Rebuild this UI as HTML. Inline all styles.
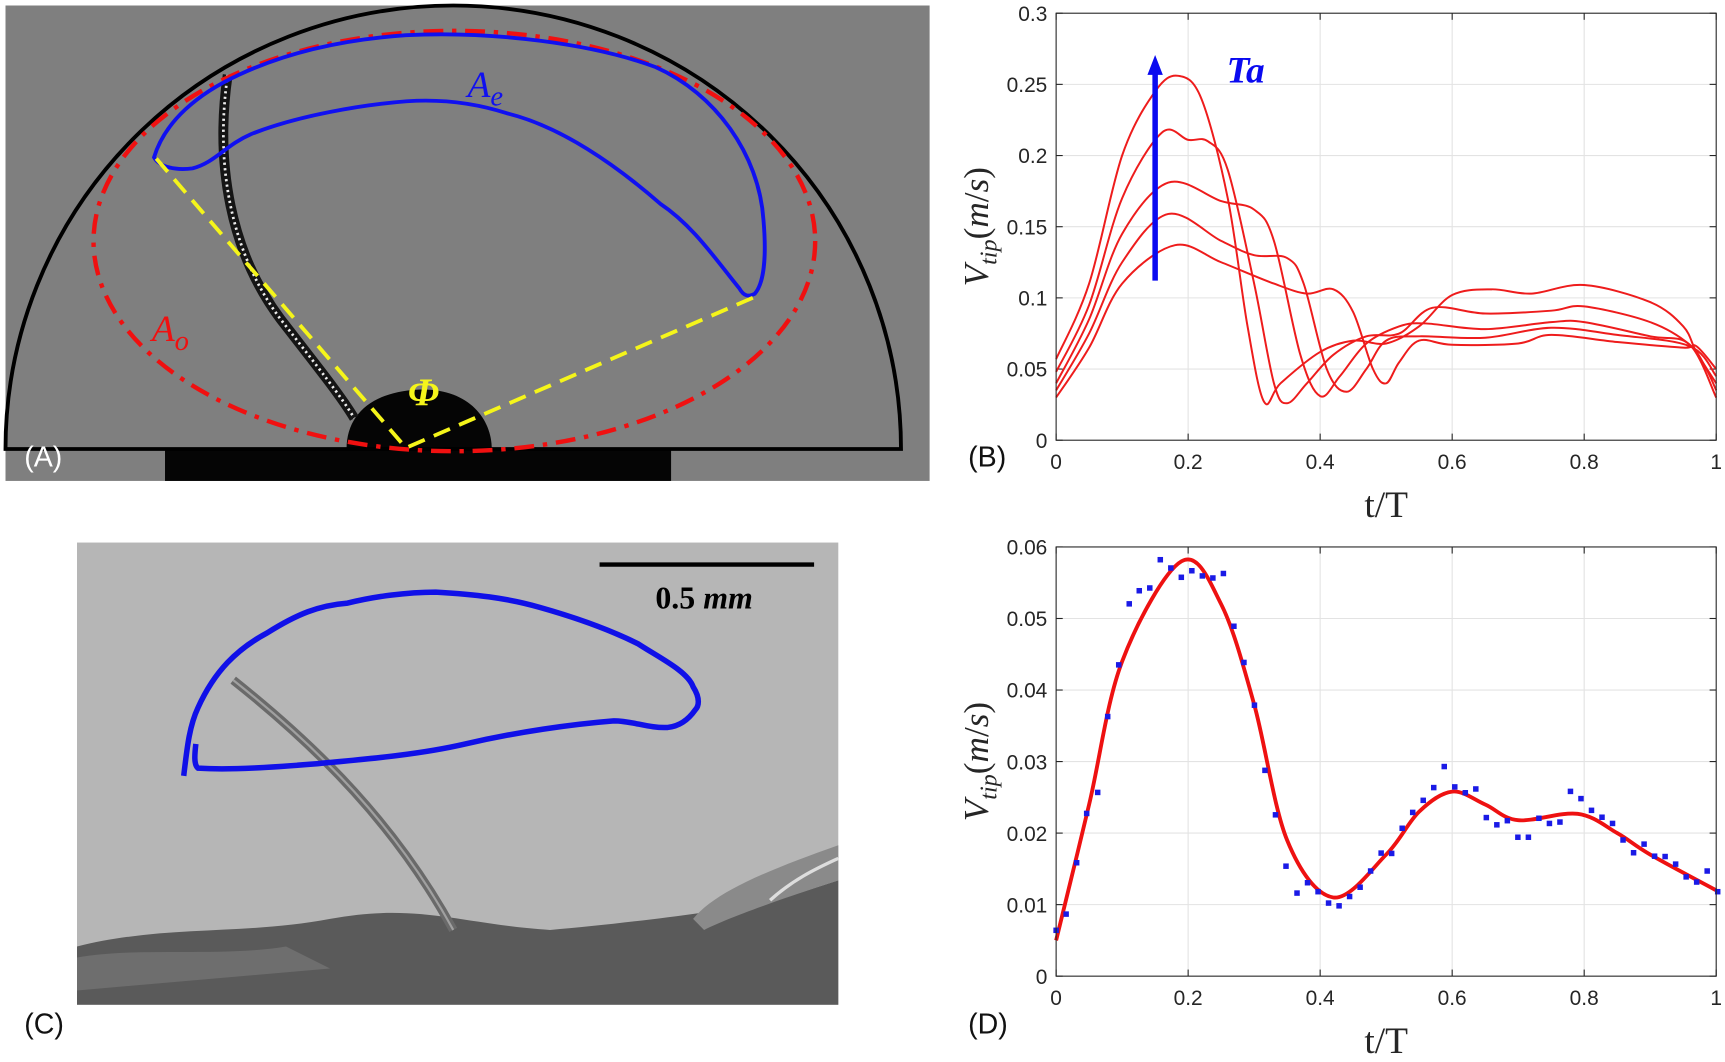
<!DOCTYPE html>
<html><head><meta charset="utf-8">
<style>
html,body{margin:0;padding:0;background:#fff;}
svg{display:block;}
.tk{font-family:"Liberation Sans Narrow","Liberation Sans",sans-serif;font-size:19px;fill:#262626;}
.lab{font-family:"Liberation Serif",serif;fill:#262626;}
</style></head><body>
<svg id="s" width="1725" height="1062" viewBox="0 0 1568 965" preserveAspectRatio="none" xmlns="http://www.w3.org/2000/svg">
<!-- Panel A -->
<rect x="5" y="5" width="840" height="432" fill="#7f7f7f"/>
<rect x="150" y="408" width="460" height="29" fill="#050505"/>
<path d="M315,408 C315,375 340,356 380,354 C425,352 447,380 447,408 Z" fill="#050505"/>
<path d="M207,68 C195,150 210,230 255,290 C290,335 310,360 322,380" stroke="#151515" stroke-width="9" fill="none"/>
<path d="M207,68 C195,150 210,230 255,290 C290,335 310,360 322,380" stroke="#eee" stroke-width="2.5" stroke-dasharray="2 3" fill="none"/>
<path d="M5,408 A407,403 0 0 1 819,408 Z" fill="none" stroke="#000" stroke-width="3.5"/>
<ellipse cx="413" cy="219" rx="328" ry="191" fill="none" stroke="#f01010" stroke-width="4" stroke-dasharray="18 8 4 8"/>
<path d="M140,143 C150,110 180,85 217,68 C260,48 310,36 369,32 C450,28 540,40 596,61 C650,85 690,140 694,200 C697,235 694,258 686,267 C680,270 676,269 672,262 C650,235 630,205 600,185 C560,150 510,115 461,103 C430,93 400,90 370,92 C330,95 270,105 228,122 C205,132 195,148 175,153 C160,155 145,152 140,143 Z" fill="none" stroke="#1010f0" stroke-width="3.5"/>
<path d="M142,144 L369,407 L688,269" fill="none" stroke="#f5f51a" stroke-width="3.5" stroke-dasharray="16 9"/>
<text x="385" y="368" font-family="Liberation Serif,serif" font-style="italic" font-weight="bold" font-size="36" fill="#f5f51a" text-anchor="middle">Φ</text>
<text x="425" y="88" font-family="Liberation Serif,serif" font-style="italic" font-size="34" fill="#1010f0">A<tspan font-size="26" dy="8">e</tspan></text>
<text x="138" y="310" font-family="Liberation Serif,serif" font-style="italic" font-size="34" fill="#f01010">A<tspan font-size="26" dy="8">o</tspan></text>
<text x="22" y="424" font-family="Liberation Sans,sans-serif" font-size="26" fill="#fff">(A)</text>

<!-- Panel C -->
<rect x="70" y="493" width="692" height="420" fill="#b6b6b6"/>
<path d="M70,860 C150,840 220,850 300,835 C380,820 420,840 500,845 C560,840 640,830 700,820 L762,800 L762,913 L70,913 Z" fill="#5a5a5a"/>
<path d="M70,870 C130,860 200,870 260,860 L300,880 L70,900 Z" fill="#6e6e6e"/>
<path d="M630,835 C650,810 700,790 762,768 L762,800 C700,820 660,835 640,845 Z" fill="#8a8a8a"/>
<path d="M700,818 C720,800 740,790 762,780" stroke="#ddd" stroke-width="3" fill="none"/>
<path d="M212,618 C290,680 360,750 412,845" stroke="#6a6a6a" stroke-width="8" fill="none"/>
<path d="M212,618 C290,680 360,750 412,845" stroke="#a0a0a0" stroke-width="2" fill="none"/>
<path d="M167,705 C170,680 172,660 180,643 C195,610 215,590 243,575 C270,558 290,550 316,548 C340,542 370,538 396,538 C430,540 460,543 491,552 C530,563 560,575 580,585 C600,598 625,610 630,624 C637,635 635,642 632,645 C625,655 617,660 607,661 C590,662 575,655 558,655 C520,658 470,665 423,676 C380,686 330,690 288,694 C250,697 210,700 180,698 C176,695 177,685 178,676" fill="none" stroke="#1010e8" stroke-width="5"/>
<line x1="545" y1="513" x2="740" y2="513" stroke="#000" stroke-width="4"/>
<text x="640" y="553" font-family="Liberation Serif,serif" font-weight="bold" font-size="29" fill="#000" text-anchor="middle">0.5 <tspan font-style="italic">mm</tspan></text>
<text x="22" y="939" font-family="Liberation Sans,sans-serif" font-size="26" fill="#111">(C)</text>

<g id="B"></g>
<g id="D"></g>
</svg>
<script>
const NS="http://www.w3.org/2000/svg";
function el(p,t,a,txt){const e=document.createElementNS(NS,t);for(const k in a)e.setAttribute(k,a[k]);if(txt!=null)e.textContent=txt;p.appendChild(e);return e;}
function cr(pts){let d="M"+pts[0][0].toFixed(1)+","+pts[0][1].toFixed(1);
 for(let i=0;i<pts.length-1;i++){const p0=pts[i-1]||pts[i],p1=pts[i],p2=pts[i+1],p3=pts[i+2]||p2;
  const c1=[p1[0]+(p2[0]-p0[0])/6,p1[1]+(p2[1]-p0[1])/6],c2=[p2[0]-(p3[0]-p1[0])/6,p2[1]-(p3[1]-p1[1])/6];
  d+="C"+c1.map(v=>v.toFixed(1))+" "+c2.map(v=>v.toFixed(1))+" "+p2.map(v=>v.toFixed(1));}
 return d;}
function axes(g,x0,x1,y0,y1,ymax,ystep,ylabs,letter,letY){
 el(g,"rect",{x:x0,y:y0,width:x1-x0,height:y1-y0,fill:"#fff",stroke:"none"});
 for(let i=1;i<5;i++){const x=x0+(x1-x0)*i/5;el(g,"line",{x1:x,y1:y0,x2:x,y2:y1,stroke:"#e3e3e3","stroke-width":1});}
 const n=ylabs.length-1;
 for(let i=1;i<n;i++){const y=y1-(y1-y0)*i/n;el(g,"line",{x1:x0,y1:y,x2:x1,y2:y,stroke:"#e3e3e3","stroke-width":1});}
 for(let i=0;i<=n;i++){const y=y1-(y1-y0)*i/n;el(g,"text",{x:x0-8,y:y+7,class:"tk","text-anchor":"end"},ylabs[i]);
  el(g,"line",{x1:x0,y1:y,x2:x0+6,y2:y,stroke:"#262626"});el(g,"line",{x1:x1,y1:y,x2:x1-6,y2:y,stroke:"#262626"});}
 const xl=["0","0.2","0.4","0.6","0.8","1"];
 for(let i=0;i<=5;i++){const x=x0+(x1-x0)*i/5;el(g,"text",{x:x,y:y1+26,class:"tk","text-anchor":"middle"},xl[i]);
  el(g,"line",{x1:x,y1:y1,x2:x,y2:y1-6,stroke:"#262626"});el(g,"line",{x1:x,y1:y0,x2:x,y2:y0+6,stroke:"#262626"});}
 el(g,"text",{x:(x0+x1)/2,y:y1+70,class:"lab","font-size":34,"text-anchor":"middle"},"t/T");
 const cy=(y0+y1)/2;const t=el(g,"text",{x:0,y:0,class:"lab","font-size":32,"text-anchor":"middle",transform:`translate(${x0-62},${cy}) rotate(-90)`});
 t.innerHTML='<tspan font-style="italic">V</tspan><tspan font-style="italic" font-size="22" dy="8">tip</tspan><tspan dy="-8">(</tspan><tspan font-style="italic">m</tspan>/<tspan font-style="italic">s</tspan>)';
 el(g,"text",{x:x0-80,y:letY,"font-family":"Liberation Sans,sans-serif","font-size":26,fill:"#111"},letter);
}
// Panel B
const gB=document.getElementById("B");
const bx0=960,bx1=1560,by0=12,by1=400;
axes(gB,bx0,bx1,by0,by1,0.3,0.05,["0","0.05","0.1","0.15","0.2","0.25","0.3"],"(B)",424);
const X=t=>bx0+(bx1-bx0)*t, YB=v=>by1-(by1-by0)*v/0.3;
const curves=[
[[0,.057],[.05,.11],[.1,.2],[.15,.245],[.185,.256],[.22,.24],[.26,.17],[.29,.08],[.315,.027],[.34,.04],[.4,.062],[.45,.07],[.5,.068],[.55,.08],[.6,.102],[.66,.106],[.72,.103],[.8,.109],[.9,.097],[.95,.08],[.97,.062],[1,.04]],
[[0,.048],[.05,.095],[.1,.17],[.16,.216],[.2,.211],[.23,.21],[.26,.19],[.3,.11],[.33,.04],[.35,.026],[.38,.04],[.42,.06],[.47,.073],[.52,.075],[.57,.093],[.65,.089],[.75,.091],[.8,.094],[.9,.083],[.96,.067],[.985,.05],[1,.035]],
[[0,.04],[.05,.085],[.1,.145],[.17,.181],[.25,.168],[.3,.162],[.33,.14],[.37,.06],[.4,.031],[.43,.045],[.47,.068],[.52,.08],[.56,.082],[.65,.078],[.75,.083],[.8,.083],[.9,.073],[.96,.067],[1,.03]],
[[0,.035],[.05,.075],[.1,.125],[.17,.159],[.25,.14],[.3,.13],[.35,.128],[.375,.11],[.41,.05],[.44,.034],[.47,.05],[.5,.07],[.55,.073],[.65,.072],[.75,.079],[.85,.074],[.96,.066],[1,.045]],
[[0,.03],[.05,.065],[.1,.11],[.18,.137],[.25,.125],[.33,.11],[.38,.103],[.42,.106],[.45,.09],[.48,.05],[.5,.04],[.52,.055],[.55,.07],[.6,.067],[.7,.068],[.75,.074],[.85,.069],[.95,.065],[.97,.066],[1,.05]]];
curves.forEach(c=>el(gB,"path",{d:cr(c.map(p=>[X(p[0]),YB(p[1])])),fill:"none",stroke:"#ee1c1c","stroke-width":1.8}));
el(gB,"rect",{x:bx0,y:by0,width:bx1-bx0,height:by1-by0,fill:"none",stroke:"#262626","stroke-width":1});
el(gB,"line",{x1:1050,y1:255,x2:1050,y2:66,stroke:"#0a0af0","stroke-width":5});
el(gB,"polygon",{points:"1043,68 1057,68 1050,50",fill:"#0a0af0"});
el(gB,"text",{x:1115,y:75,"font-family":"Liberation Serif,serif","font-style":"italic","font-weight":"bold","font-size":34,fill:"#0a0af0"},"Ta");
// Panel D
const gD=document.getElementById("D");
const dx0=960,dx1=1560,dy0=497,dy1=887;
axes(gD,dx0,dx1,dy0,dy1,0.06,0.01,["0","0.01","0.02","0.03","0.04","0.05","0.06"],"(D)",939);
const YD=v=>dy1-(dy1-dy0)*v/0.06;
const dots=[[232,1180],[252,1133],[273,984],[293,841],[315,780],[335,560],[357,410],[378,233],[398,195],[419,187],[440,105],[461,129],[482,156],[503,137],[524,152],[545,158],[566,145],[587,298],[607,403],[628,527],[649,716],[670,845],[691,994],[713,1072],[734,1042],[755,1068],[776,1101],[797,1109],[818,1082],[839,1055],[860,1008],[881,956],[902,957],[923,884],[944,838],[965,803],[986,766],[1007,705],[1028,764],[1049,781],[1070,770],[1091,853],[1112,874],[1133,862],[1154,910],[1175,910],[1196,855],[1217,870],[1238,866],[1259,777],[1280,798],[1301,832],[1322,852],[1343,870],[1364,918],[1385,955],[1406,930],[1427,965],[1448,966],[1469,988],[1490,1025],[1511,1040],[1532,1008],[1553,1068]];
const fit=[[0,.005],[.05,.024],[.1,.044],[.19,.058],[.25,.052],[.3,.038],[.35,.019],[.42,.011],[.5,.017],[.55,.023],[.6,.0258],[.65,.024],[.7,.0218],[.79,.0227],[.85,.020],[.9,.017],[1,.012]];
el(gD,"path",{d:cr(fit.map(p=>[X(p[0]),YD(p[1])])),fill:"none",stroke:"#ee1111","stroke-width":3.5});
dots.forEach(p=>{const t=(p[0]-232)/(1550-232),v=(1313-p[1])/(1313-68)*0.06;
 el(gD,"rect",{x:X(t)-2.5,y:YD(v)-2.5,width:5,height:5,fill:"#1a1ae6"});});
el(gD,"rect",{x:dx0,y:dy0,width:dx1-dx0,height:dy1-dy0,fill:"none",stroke:"#262626","stroke-width":1});
</script>
</body></html>
